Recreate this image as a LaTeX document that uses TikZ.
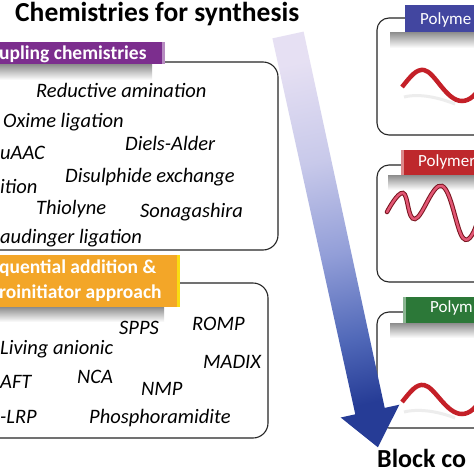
\documentclass[tikz,border=0pt]{standalone}
\usepackage{fontspec}
\setmainfont{Carlito}
\definecolor{labPurple}{RGB}{124,46,142}
\definecolor{labOrange}{RGB}{243,166,40}
\definecolor{labBlue}{RGB}{66,70,160}
\definecolor{labRed}{RGB}{190,40,44}
\definecolor{labGreen}{RGB}{44,120,56}
\definecolor{waveRed}{RGB}{196,32,40}
\definecolor{wavePink}{RGB}{226,86,116}
\definecolor{waveDark}{RGB}{120,20,30}
\definecolor{arrLight}{RGB}{230,224,243}
\definecolor{arrPale}{RGB}{200,201,234}
\definecolor{arrMid}{RGB}{146,158,216}
\definecolor{arrBlue}{RGB}{80,104,184}
\definecolor{arrDark}{RGB}{38,60,150}
\pgfdeclareverticalshading{arrowshade}{100bp}{color(0bp)=(arrDark); color(27bp)=(arrDark); color(36bp)=(arrBlue); color(48bp)=(arrMid); color(61bp)=(arrPale); color(75bp)=(arrLight); color(100bp)=(arrLight)}
\begin{document}
\begin{tikzpicture}[x=1pt,y=-1pt,
  item/.style={anchor=base west, inner sep=0pt, font=\fontsize{20.5}{24}\selectfont\itshape},
  labtext/.style={anchor=base west, inner sep=0pt, text=white, font=\fontsize{19.5}{22}\selectfont\bfseries},
  poltext/.style={anchor=base west, inner sep=0pt, text=white, font=\fontsize{17}{20}\selectfont},
  frame/.style={draw=black!85, line width=1.1pt, rounded corners=15pt},
  rframe/.style={draw=black!85, line width=1.1pt, rounded corners=12pt},
  labshadow/.style={top color=black!45, bottom color=white}]
\useasboundingbox (0,0) rectangle (474,474);
\fill[white] (0,0) rectangle (474,474);

% title
\node[anchor=base west, inner sep=0pt, font=\fontsize{27.5}{32}\selectfont\bfseries] (title) at (15,21) {Chemistries for synthesis};

% ---- box 1: coupling chemistries
\draw[frame] (-20,62) rectangle (278,250);
\shade[labshadow] (0,64) rectangle (152,80);
\fill[labPurple] (-2,42) rectangle (165,64);
\fill[labPurple!55!white] (162,42) rectangle (165,64);
\node[labtext] (lab1) at (-1,59) {upling chemistries};

\node[item] (c1) at (36,97) {Reductive amination};
\node[item] (c2) at (3,127) {Oxime ligation};
\node[item] (c3) at (125,150) {Diels-Alder};
\node[item] (c4) at (0,159) {uAAC};
\node[item] (c5) at (65,182) {Disulphide exchange};
\node[item] (c6) at (0,193) {ition};
\node[item] (c7) at (36,214) {Thiolyne};
\node[item] (c8) at (140,217) {Sonagashira};
\node[item] (c9) at (0,243) {audinger ligation};

% ---- box 2: sequential addition
\draw[frame] (-20,283) rectangle (268,438);
\shade[labshadow] (0,307) rectangle (164,322);
\fill[labOrange] (-2,255) rectangle (180,307);
\fill[yellow!70!labOrange] (177,255) rectangle (180,307);
\node[labtext] (lab2a) at (-1,273) {quential addition \&};
\node[labtext] (lab2b) at (-1,298) {roinitiator approach};

\node[item] (s1) at (119,334) {SPPS};
\node[item] (s2) at (192,330) {ROMP};
\node[item] (s3) at (0,354) {Living anionic};
\node[item] (s4) at (203,368) {MADIX};
\node[item] (s5) at (0,388) {AFT};
\node[item] (s6) at (77,383) {NCA};
\node[item] (s7) at (141,395) {NMP};
\node[item] (s8) at (0,423) {-LRP};
\node[item] (s9) at (89,423) {Phosphoramidite};

% ---- right box A
\draw[rframe] (377,18) rectangle (500,135);
\shade[labshadow] (390,32) rectangle (480,48);
\fill[labBlue] (405,5) rectangle (480,32);
\node[poltext] (pA) at (420,24) {Polyme};
\draw[black!7, line width=3pt] (404,97) .. controls (420,93) and (440,98) .. (455,104);
\draw[waveRed, line width=4.5pt] (402,87) .. controls (411,76) and (416,69) .. (424,70)
   .. controls (435,72) and (446,101) .. (462,101) .. controls (470,101) and (476,94) .. (482,86);

% ---- right box B
\draw[rframe] (377,165) rectangle (500,282);
\shade[labshadow] (388,175) rectangle (480,190);
\fill[labRed] (401,150) rectangle (480,175);
\fill[labRed!55!white] (401,150) rectangle (404,175);
\node[poltext] (pB) at (418,166) {Polymer};
\draw[waveDark, line width=4.5pt, line cap=round] plot[smooth, tension=0.7] coordinates {(387,212) (403,193) (415,219) (442,186) (463,238) (476,226)};
\draw[wavePink, line width=2.5pt, line cap=round] plot[smooth, tension=0.7] coordinates {(387,212) (403,193) (415,219) (442,186) (463,238) (476,226)};

% ---- right box C
\draw[rframe] (377,312) rectangle (500,428);
\shade[labshadow] (390,323) rectangle (480,338);
\fill[labGreen] (403,297) rectangle (480,323);
\fill[labGreen!55!white] (403,297) rectangle (406,323);
\node[poltext] (pC) at (430,312) {Polym};
\draw[black!7, line width=3pt] (404,412) .. controls (420,408) and (440,412) .. (455,418);
\draw[waveRed, line width=4.5pt] (402,402) .. controls (411,391) and (416,384) .. (424,385)
   .. controls (435,387) and (446,414) .. (462,414) .. controls (470,414) and (476,407) .. (482,399);

% ---- big arrow
\shade[shading=arrowshade, shading angle=12.3]
  (272.4,38.4) -- (303.6,31.6) -- (384.7,407.9) -- (399.3,404.7) -- (377.9,447.3)
  -- (340.7,417.5) -- (355.3,414.3) -- cycle;

% bottom text
\node[anchor=base west, inner sep=0pt, font=\fontsize{26}{30}\selectfont\bfseries] (block) at (377,467) {Block co};
\end{tikzpicture}
\end{document}
